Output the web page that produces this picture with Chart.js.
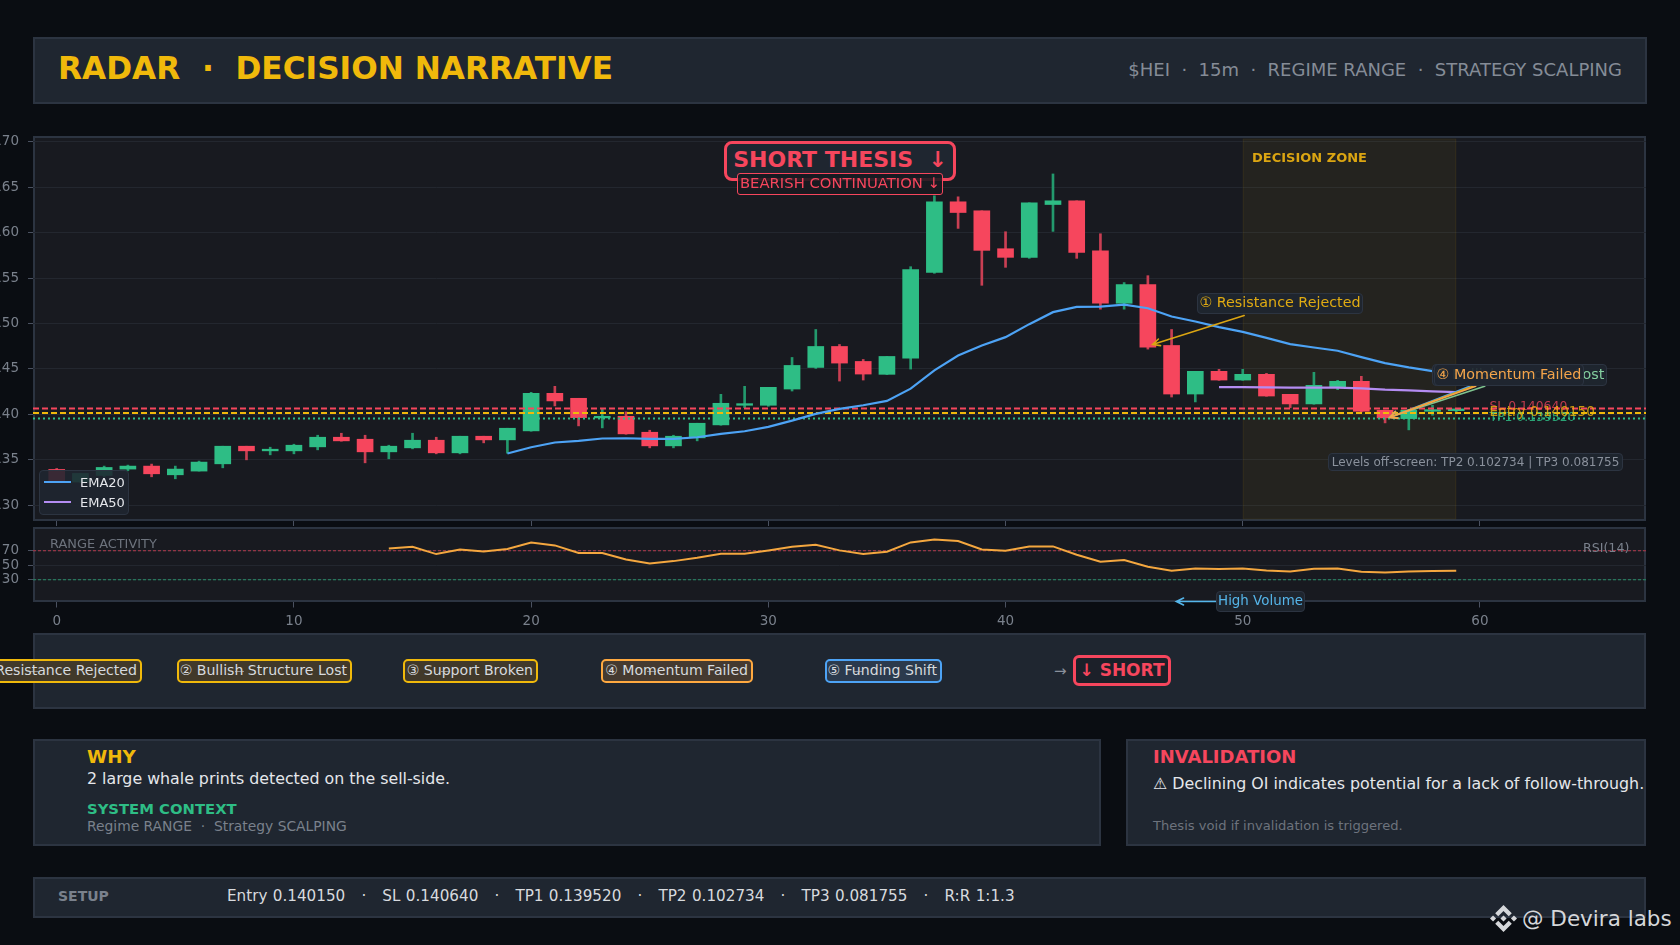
<!DOCTYPE html>
<html>
<head>
<meta charset="utf-8">
<title>RADAR · DECISION NARRATIVE</title>
<script src="https://cdn.jsdelivr.net/npm/chart.js@4/dist/chart.umd.min.js"></script>
<style>
  html,body{margin:0;padding:0;background:#0a0d12;}
  body{position:relative;width:1680px;height:945px;overflow:hidden;font-family:"DejaVu Sans",sans-serif;color:#e5e7eb;}
  canvas{position:absolute;left:0;}
  .panel{position:absolute;box-sizing:border-box;background:#1f2630;border:2px solid #2c3441;}
  .plot{background:#181a20;}
  .t{position:absolute;white-space:pre;line-height:1;transform:translateY(-50%);}
  .box{position:absolute;box-sizing:border-box;white-space:pre;display:flex;align-items:center;justify-content:center;}
  .note{background:rgba(31,38,48,.92);border:1.5px solid #2c3441;border-radius:4px;font-size:14.3px;padding-bottom:3px;}
  .chip{position:absolute;box-sizing:border-box;top:659px;height:24px;border:2px solid #f0b90b;border-radius:5px;background:#41392a;color:#d7dade;font-size:14.1px;white-space:pre;display:flex;align-items:center;justify-content:flex-end;padding:0 3px 2px 0;}
  .chip::after{content:"";position:absolute;left:calc(50% - 30px);top:50%;width:9px;height:1px;background:#c8ccd2;opacity:.6;}
  .legend{position:absolute;box-sizing:border-box;left:39px;top:470px;width:90px;height:45px;background:rgba(31,38,48,.88);border:1.5px solid #2c3441;border-radius:4px;}
  .legend i{position:absolute;left:4px;width:27px;height:2px;}
  .legend span{position:absolute;left:40px;font-size:13px;line-height:1;transform:translateY(-50%);color:#e5e7eb;}
</style>
</head>
<body>

<div class="panel" style="left:33px;top:37px;width:1614px;height:67px"></div>
<div class="t" style="left:58px;top:69px;font-size:31.2px;font-weight:bold;color:#f0b90b">RADAR  ·  DECISION NARRATIVE</div>
<div class="t" style="right:58px;top:69.5px;font-size:18px;color:#858c97">$HEI  ·  15m  ·  REGIME RANGE  ·  STRATEGY SCALPING</div>

<div class="panel plot" style="left:33px;top:136px;width:1613px;height:385px"></div>
<div class="panel plot" style="left:33px;top:527px;width:1613px;height:75px"></div>
<canvas id="mainChart" width="1680" height="400" style="top:130px"></canvas>
<canvas id="rsiChart" width="1680" height="105" style="top:525px"></canvas>

<div class="box" style="left:724px;top:141px;width:232px;height:40px;border:3px solid #f6465d;border-radius:8px;background:#1f2630;color:#f6465d;font-size:22px;font-weight:bold;align-items:flex-start;padding-top:3px">SHORT THESIS  ↓</div>
<div class="box" style="left:737px;top:173px;width:206px;height:22px;border:1.5px solid #f6465d;border-radius:3px;background:rgba(24,26,32,.88);color:#f6465d;font-size:14.8px;padding-bottom:3px">BEARISH CONTINUATION ↓</div>
<div class="t" style="left:1252px;top:156.5px;font-size:13px;font-weight:bold;color:#dba512">DECISION ZONE</div>
<div class="box note" style="left:1197px;top:293px;width:166px;height:21px;color:#e0ab12">① Resistance Rejected</div>
<div class="box note" style="left:1432px;top:364px;width:175px;height:22px;color:#84cf9f">② Bullish Structure Lost</div>
<div class="box note" style="left:1434px;top:364px;width:150px;height:22px;color:#f4a44a">④ Momentum Failed</div>
<div class="box note" style="left:1328px;top:453px;width:295px;height:18px;font-size:12px;color:#8a919c;padding-bottom:0">Levels off-screen: TP2 0.102734 | TP3 0.081755</div>

<div class="legend">
  <i style="top:10px;background:#4da3f5"></i><span style="top:11px">EMA20</span>
  <i style="top:30px;background:#b48cf2"></i><span style="top:31px">EMA50</span>
</div>

<div class="t" style="left:50px;top:544px;font-size:12.9px;color:#6d737d">RANGE ACTIVITY</div>
<div class="t" style="left:1583px;top:548px;font-size:12.6px;color:#7a818c">RSI(14)</div>
<div class="box note" style="left:1216px;top:591px;width:89px;height:21px;font-size:13.4px;color:#55b6ea">High Volume</div>

<div class="panel" style="left:33px;top:633px;width:1613px;height:76px"></div>
<div class="chip" style="left:-24px;width:166px">① Resistance Rejected</div>
<div class="chip" style="left:177px;width:175px">② Bullish Structure Lost</div>
<div class="chip" style="left:403px;width:135px">③ Support Broken</div>
<div class="chip" style="left:601px;width:152px;border-color:#ffa940;background:#453a30">④ Momentum Failed</div>
<div class="chip" style="left:825px;width:117px;border-color:#4da3f5;background:#2b3a4d">⑤ Funding Shift</div>
<div class="t" style="left:1054px;top:671px;font-size:15px;color:#8a919c">→</div>
<div class="box" style="left:1073px;top:655px;width:98px;height:31px;border:3px solid #f6465d;border-radius:6px;background:#1c2029;color:#f6465d;font-size:17px;font-weight:bold;padding-bottom:2px">↓ SHORT</div>

<div class="panel" style="left:33px;top:739px;width:1068px;height:107px"></div>
<div class="t" style="left:87px;top:757px;font-size:18.3px;font-weight:bold;color:#f0b90b">WHY</div>
<div class="t" style="left:87px;top:779px;font-size:15.8px;color:#e5e7eb">2 large whale prints detected on the sell-side.</div>
<div class="t" style="left:87px;top:809px;font-size:14.8px;font-weight:bold;color:#2ebd85">SYSTEM CONTEXT</div>
<div class="t" style="left:87px;top:827px;font-size:13.85px;color:#7a818c">Regime RANGE  ·  Strategy SCALPING</div>

<div class="panel" style="left:1126px;top:739px;width:520px;height:107px"></div>
<div class="t" style="left:1153px;top:757px;font-size:18px;font-weight:bold;color:#f6465d">INVALIDATION</div>
<div class="t" style="left:1153px;top:784px;font-size:15.85px;color:#e5e7eb">⚠ Declining OI indicates potential for a lack of follow-through.</div>
<div class="t" style="left:1153px;top:825.5px;font-size:13.1px;color:#6d737d">Thesis void if invalidation is triggered.</div>

<div class="panel" style="left:33px;top:877px;width:1613px;height:41px"></div>
<div class="t" style="left:58px;top:896px;font-size:14px;font-weight:bold;color:#7a818c">SETUP</div>
<div class="t" style="left:227px;top:897px;font-size:15.2px;word-spacing:.55px;color:#d7dade">Entry 0.140150   ·   SL 0.140640   ·   TP1 0.139520   ·   TP2 0.102734   ·   TP3 0.081755   ·   R:R 1:1.3</div>

<svg style="position:absolute;left:1490px;top:905px" width="27" height="27" viewBox="0 0 126.61 126.61" fill="#d5d7da">
  <path d="M38.73 53.2l24.59-24.58 24.6 24.6 14.3-14.31L63.32 0 24.43 38.9z"/>
  <path d="M0 63.31l14.3-14.31 14.31 14.31-14.31 14.3z"/>
  <path d="M38.73 73.41l24.59 24.59 24.6-24.6 14.31 14.29-38.9 38.91-38.91-38.88z"/>
  <path d="M98.03 63.31l14.3-14.31 14.31 14.3-14.31 14.32z"/>
  <path d="M77.83 63.3L63.32 48.78 52.59 59.51l-1.24 1.23-2.54 2.54 14.51 14.5 14.51-14.47z"/>
</svg>
<div class="t" style="left:1522px;top:919px;font-size:21.5px;color:#d5d7da">@ Devira labs</div>

<script>
// ---------- data ----------
const opens = [.13392,.13253,.13326,.13396,.13429,.13333,.13374,.13454,.13648,.13597,.13597,.13641,.13747,.13725,.13586,.13630,.13714,.13575,.13758,.13718,
  .13817,.14231,.14176,.13960,.13978,.13802,.13652,.13740,.13883,.14099,.14099,.14278,.14516,.14747,.14582,.14440,.14619,.15564,.16341,.16242,
  .15824,.15729,.16311,.16352,.15802,.15223,.15429,.14758,.14223,.14473,.14377,.14440,.14220,.14114,.14300,.14363,.14044,.13952,.14033,.14040];
const closes = [.13256,.13348,.13414,.13429,.13344,.13396,.13473,.13648,.13597,.13615,.13659,.13747,.13707,.13586,.13648,.13714,.13575,.13758,.13718,.13846,
  .14231,.14147,.13963,.13978,.13784,.13652,.13758,.13901,.14121,.14117,.14297,.14538,.14747,.14564,.14443,.14637,.15593,.16341,.16223,.15806,
  .15729,.16330,.16352,.15784,.15223,.15429,.14740,.14223,.14473,.14377,.14440,.14201,.14114,.14319,.14363,.14033,.13960,.14044,.14051,.14059];
const highs = [.13403,.13350,.13429,.13440,.13451,.13429,.13484,.13648,.13648,.13637,.13670,.13769,.13791,.13769,.13659,.13791,.13747,.13758,.13758,.13846,
  .14242,.14308,.14176,.14059,.14026,.13824,.13769,.13901,.14220,.14308,.14297,.14626,.14934,.14769,.14604,.14637,.15626,.16407,.16396,.16242,
  .16011,.16330,.16648,.16352,.15989,.15451,.15527,.14934,.14473,.14495,.14495,.14451,.14220,.14462,.14374,.14418,.14044,.14051,.14099,.14066];
const lows = [.13250,.13250,.13311,.13377,.13311,.13289,.13374,.13410,.13498,.13553,.13564,.13608,.13703,.13465,.13509,.13619,.13564,.13564,.13685,.13571,
  .13813,.14092,.13872,.13850,.13780,.13630,.13630,.13707,.13879,.14073,.14088,.14256,.14505,.14366,.14377,.14437,.14498,.15553,.16048,.15421,
  .15619,.15718,.16015,.15718,.15158,.15158,.14718,.14190,.14136,.14374,.14374,.14198,.14073,.14110,.14271,.14026,.13905,.13828,.13989,.14026];

const ema20Start = 19;
const ema20 = [.13568,.13637,.13689,.13707,.13733,.13736,.13729,.13729,.13747,.13784,.13813,.13861,.13930,.14004,.14059,.14099,.14147,.14282,.14484,.14648,
  .14758,.14850,.14993,.15125,.15183,.15187,.15209,.15168,.15077,.15022,.14960,.14908,.14842,.14773,.14736,.14700,.14630,.14564,.14516,.14476,.14440];
const ema50Start = 49;
const ema50 = [.14300,.14300,.14297,.14293,.14293,.14293,.14286,.14271,.14264,.14253,.14245];

const rsiStart = 14;
const rsiValues = [73.2,75.5,65.4,71.8,69.1,72.3,81.5,77.4,66.8,66.8,58.0,52.5,55.7,60.3,65.9,65.9,70.5,75.5,78.3,70.5,
  65.4,68.6,81.5,85.6,83.3,71.8,70,76,76,64.5,54.8,57.1,47.9,42.4,45.6,44.7,45.6,42.9,41.5,45.2,45.6,41,40.1,41.5,42,42.4];
const rsiTicks = [30,50,70];

const entry = 0.14015, stopLoss = 0.14064, tp1 = 0.13952;
const zoneStart = 50, zoneEnd = 59;
const xMin = -1, xMax = 67;
const yMin = 0.12824, yMax = 0.17055;

// ---------- helpers ----------
const UP = '#2ebd85', DOWN = '#f6465d', GOLD = '#f0b90b';
const FONT = '"DejaVu Sans"';
const pts = (arr, start) => arr.map((v, i) => ({x: start + i, y: v}));
const levelLine = (val, color, dash) => ({type: 'line', data: [{x: xMin, y: val}, {x: xMax, y: val}], borderColor: color, borderWidth: 2, borderDash: dash, pointRadius: 0, order: 2});

function arrow(ctx, x1, y1, x2, y2, color, w) {
  const a = Math.atan2(y2 - y1, x2 - x1), h = 8;
  ctx.save();
  ctx.strokeStyle = color; ctx.lineWidth = w; ctx.lineCap = 'round';
  ctx.beginPath(); ctx.moveTo(x1, y1); ctx.lineTo(x2, y2);
  ctx.moveTo(x2 - h * Math.cos(a - .45), y2 - h * Math.sin(a - .45)); ctx.lineTo(x2, y2);
  ctx.lineTo(x2 - h * Math.cos(a + .45), y2 - h * Math.sin(a + .45));
  ctx.stroke(); ctx.restore();
}

// the scales reserve half a label of padding at their ends, which would move the plot off the panel
const fitY = s => { s.width = 33; s.paddingTop = 0; s.paddingBottom = 0; };
const fitX = h => s => { s.height = h; s.paddingLeft = 0; s.paddingRight = 0; };

const zonePlugin = {
  id: 'zone',
  beforeDatasetsDraw(c) {
    const x = c.scales.x, a = c.chartArea, l = x.getPixelForValue(zoneStart), r = x.getPixelForValue(zoneEnd), ctx = c.ctx;
    ctx.save();
    ctx.fillStyle = 'rgba(240,185,11,.06)'; ctx.fillRect(l, a.top + 2, r - l, a.bottom - a.top - 4);
    ctx.strokeStyle = 'rgba(240,185,11,.07)'; ctx.strokeRect(l + .5, a.top + 2, r - l - 1, a.bottom - a.top - 4);
    ctx.restore();
  }
};

const calloutPlugin = {
  id: 'callouts',
  afterDatasetsDraw(c) {
    const x = c.scales.x, y = c.scales.y, ctx = c.ctx;
    // price tags on the level lines
    ctx.save();
    ctx.textBaseline = 'middle'; ctx.textAlign = 'left';
    const tagX = x.getPixelForValue(60.4);
    ctx.font = '12.4px ' + FONT; ctx.fillStyle = 'rgba(246,70,93,.75)'; ctx.fillText('SL 0.140640', tagX, y.getPixelForValue(stopLoss) - 2);
    ctx.fillStyle = 'rgba(46,189,133,.85)'; ctx.fillText('TP1 0.139520', tagX, y.getPixelForValue(tp1) - 1);
    ctx.font = '13.6px ' + FONT; ctx.fillStyle = 'rgba(240,185,11,.8)'; ctx.fillText('Entry 0.140150', tagX, y.getPixelForValue(entry));
    ctx.restore();
    // arrows from the notes to the candles
    arrow(ctx, x.getPixelForValue(50.06), y.getPixelForValue(.15088), x.getPixelForValue(46.2), y.getPixelForValue(.14769), '#dba512', 1.6);
    [[60.2, '#7fc48f'], [59.57, '#4da3f5'], [59.7, '#dba512'], [59.82, '#f4a44a']].forEach(a => {
      arrow(ctx, x.getPixelForValue(a[0]), y.getPixelForValue(.14308), x.getPixelForValue(56.2), y.getPixelForValue(.13967), a[1], 1.6);
    });
  }
};

const volArrowPlugin = {
  id: 'volArrow',
  afterDraw(c) {
    const x = c.scales.x, y = c.scales.y;
    arrow(c.ctx, x.getPixelForValue(48.86), y.getPixelForValue(0), x.getPixelForValue(47.2), y.getPixelForValue(0), '#55b6ea', 1.6);
  }
};

const tickFont = {family: FONT, size: 13.5};
const GRID = '#23272f', TICK = '#4a5160', LABEL = '#7a818c';

// ---------- main chart ----------
new Chart(document.getElementById('mainChart'), {
  type: 'bar',
  data: {
    datasets: [
      {data: lows.map((l, i) => ({x: i, y: [l, highs[i]]})), backgroundColor: closes.map((c, i) => c >= opens[i] ? '#239a6d' : '#c93f53'), barThickness: 2, grouped: false, order: 6},
      {data: opens.map((o, i) => ({x: i, y: [o, closes[i]]})), backgroundColor: closes.map((c, i) => c >= opens[i] ? UP : DOWN), barThickness: 16, grouped: false, order: 5},
      levelLine(stopLoss, DOWN, [6, 3]),
      levelLine(entry, GOLD, [6, 3]),
      levelLine(tp1, UP, [2, 3]),
      {type: 'line', data: pts(ema20, ema20Start), borderColor: '#4da3f5', borderWidth: 2.2, pointRadius: 0, tension: 0, order: 1},
      {type: 'line', data: pts(ema50, ema50Start), borderColor: '#b48cf2', borderWidth: 2.2, pointRadius: 0, tension: 0, order: 1}
    ]
  },
  options: {
    responsive: false, animation: false, devicePixelRatio: 1,
    layout: {autoPadding: false, padding: {top: 7, right: 34, left: 0, bottom: 0}},
    plugins: {legend: {display: false}, tooltip: {enabled: false}},
    scales: {
      x: {type: 'linear', min: xMin, max: xMax, offset: false,
        border: {display: false}, grid: {offset: false, drawOnChartArea: false, tickLength: 5, tickColor: TICK},
        ticks: {display: false, stepSize: 10, includeBounds: false},
        afterFit: fitX(9)},
      y: {min: yMin, max: yMax,
        border: {display: false}, grid: {color: GRID, tickLength: 5, tickColor: TICK},
        ticks: {stepSize: 0.005, includeBounds: false, color: LABEL, font: tickFont, padding: 9, callback: v => v.toFixed(3)},
        afterFit: fitY}
    }
  },
  plugins: [zonePlugin, calloutPlugin]
});

// ---------- RSI strip ----------
new Chart(document.getElementById('rsiChart'), {
  type: 'line',
  data: {
    datasets: [
      {data: [{x: xMin, y: 70}, {x: xMax, y: 70}], borderColor: 'rgba(246,70,93,.7)', borderWidth: 1, borderDash: [3, 2], pointRadius: 0, order: 2},
      {data: [{x: xMin, y: 30}, {x: xMax, y: 30}], borderColor: 'rgba(46,189,133,.7)', borderWidth: 1, borderDash: [3, 2], pointRadius: 0, order: 2},
      {data: pts(rsiValues, rsiStart), borderColor: '#f4a73f', borderWidth: 2, pointRadius: 0, tension: 0, order: 1}
    ]
  },
  options: {
    responsive: false, animation: false, devicePixelRatio: 1,
    layout: {autoPadding: false, padding: {top: 4, right: 34, left: 0, bottom: 0}},
    plugins: {legend: {display: false}, tooltip: {enabled: false}},
    scales: {
      x: {type: 'linear', min: xMin, max: xMax,
        border: {display: false}, grid: {drawOnChartArea: false, tickLength: 6, tickColor: TICK},
        ticks: {stepSize: 10, includeBounds: false, color: LABEL, font: tickFont, padding: 6, maxRotation: 0},
        afterFit: fitX(28.5)},
      y: {min: 0, max: 100,
        border: {display: false}, grid: {color: GRID, tickLength: 5, tickColor: TICK},
        afterBuildTicks(s) { s.ticks = rsiTicks.map(v => ({value: v})); },
        ticks: {color: LABEL, font: tickFont, padding: 9},
        afterFit: fitY}
    }
  },
  plugins: [volArrowPlugin]
});
</script>
</body>
</html>
